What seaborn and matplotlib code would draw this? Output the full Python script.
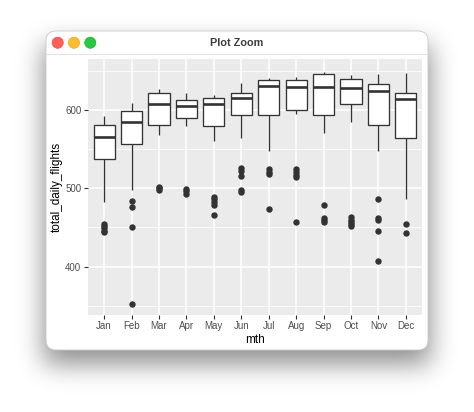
import numpy as np
import pandas as pd
import matplotlib
matplotlib.use("Agg")
import matplotlib.pyplot as plt
import seaborn as sns
from matplotlib.patches import FancyBboxPatch, Circle

# ---------------- data ----------------
months = ["Jan", "Feb", "Mar", "Apr", "May", "Jun",
          "Jul", "Aug", "Sep", "Oct", "Nov", "Dec"]
whisker_low = [482, 498, 568, 580, 560, 564, 548, 595, 571, 584, 547, 486]
q1 = [537, 557, 581, 590, 579, 593, 593, 600, 594, 607, 581, 564]
median = [566, 584, 607, 605, 608, 615, 631, 629, 629, 628, 624, 614]
q3 = [581, 599, 621, 612, 615, 622, 638, 638, 646, 639, 633, 621]
whisker_high = [592, 609, 626, 621, 619, 634, 641, 642, 648, 645, 646, 647]

outlier_month = ["Jan", "Jan", "Jan", "Jan", "Jan",
                 "Feb", "Feb", "Feb", "Feb",
                 "Mar", "Mar", "Mar",
                 "Apr", "Apr", "Apr",
                 "May", "May", "May", "May", "May",
                 "Jun", "Jun", "Jun", "Jun", "Jun",
                 "Jul", "Jul", "Jul", "Jul",
                 "Aug", "Aug", "Aug", "Aug", "Aug",
                 "Sep", "Sep", "Sep", "Sep",
                 "Oct", "Oct", "Oct", "Oct", "Oct",
                 "Nov", "Nov", "Nov", "Nov", "Nov",
                 "Dec", "Dec"]
outlier_value = [455, 452, 449, 446, 444,
                 484, 476, 451, 352,
                 502, 500, 498,
                 499, 496, 493,
                 489, 486, 483, 479, 466,
                 526, 522, 516, 498, 495,
                 524, 521, 518, 473,
                 525, 521, 517, 514, 457,
                 479, 462, 459, 457,
                 463, 460, 457, 454, 452,
                 486, 462, 459, 446, 407,
                 454, 443]

y_ticks = [400, 500, 600]
y_minor = [350, 450, 550, 650]

# ---------------- tables for seaborn ----------------
box_rows = []
for m, a, b, c, d, e in zip(months, whisker_low, q1, median, q3, whisker_high):
    for v in (a, b, c, d, e):
        box_rows.append({"mth": m, "total_daily_flights": v})
box_df = pd.DataFrame(box_rows)
out_df = pd.DataFrame({"mth": outlier_month, "total_daily_flights": outlier_value})

plt.rcParams["font.family"] = ["Liberation Sans", "DejaVu Sans"]

W, H = 474, 412
fig = plt.figure(figsize=(W / 100, H / 100), dpi=100)
fig.patch.set_facecolor("white")

# ---------------- window chrome ----------------
bg = fig.add_axes([0, 0, 1, 1])
bg.set_xlim(0, W)
bg.set_ylim(H, 0)
bg.axis("off")

wx0, wy0, wx1, wy1 = 46, 31, 428, 350


def blur(a, s):
    r = int(3 * s)
    k = np.exp(-0.5 * (np.arange(-r, r + 1) / s) ** 2)
    k /= k.sum()
    a = np.apply_along_axis(lambda row: np.convolve(row, k, mode="same"), 1, a)
    a = np.apply_along_axis(lambda col: np.convolve(col, k, mode="same"), 0, a)
    return a


mask = np.zeros((H, W))
mask[wy0 + 14:wy1 + 14, wx0 - 2:wx1 + 2] = 1.0
sh = blur(mask, 13) * 0.45
rgba = np.zeros((H, W, 4))
rgba[..., 3] = sh
bg.imshow(rgba, extent=(0, W, H, 0), origin="upper", interpolation="bilinear", zorder=0)

win = FancyBboxPatch((wx0, wy0), wx1 - wx0, wy1 - wy0,
                     boxstyle="round,pad=0,rounding_size=10",
                     fc="white", ec="#c9c9c9", lw=0.6, zorder=1)
bg.add_patch(win)
bg.plot([wx0 + 0.5, wx1 - 0.5], [54, 54], color="#e4e4e4", lw=0.8, zorder=2)
for cx, col, ec in [(57.7, "#ff5f57", "#e2463f"), (74.0, "#febc2e", "#e1a116"),
                    (90.3, "#28c840", "#14ae2c")]:
    bg.add_patch(Circle((cx, 42.7), 5.6, fc=col, ec=ec, lw=0.4, zorder=3))
bg.text(236.5, 42.5, "Plot Zoom", ha="center", va="center", fontsize=7.8,
        fontweight="bold", color="#3d3d3d", zorder=3)

# ---------------- plot ----------------
px0, px1, py0, py1 = 87.7, 422.3, 59.3, 315.0
ax = fig.add_axes([px0 / W, (H - py1) / H, (px1 - px0) / W, (py1 - py0) / H])
ax.set_facecolor("#EBEBEB")

sns.boxplot(data=box_df, x="mth", y="total_daily_flights", order=months,
            whis=(0, 100), width=0.77, color="white", linecolor="#333333",
            linewidth=0.95, fliersize=0, showcaps=False,
            medianprops={"linewidth": 1.9, "color": "#333333"}, ax=ax)
sns.stripplot(data=out_df, x="mth", y="total_daily_flights", order=months,
              jitter=False, color="#333333", size=4.6, linewidth=0, ax=ax)

ax.set_xlim(-0.6, 11.6)
ax.set_ylim(338.4, 664.5)
ax.set_yticks(y_ticks)
ax.set_yticks(y_minor, minor=True)
ax.set_axisbelow(True)
ax.grid(which="major", color="white", lw=1.1)
ax.grid(which="minor", axis="y", color="white", lw=0.55)
for s in ax.spines.values():
    s.set_visible(False)
ax.tick_params(axis="both", which="major", length=2.8, width=0.8, color="#333333",
               labelcolor="#4D4D4D", labelsize=7, pad=1.8)
ax.tick_params(axis="both", which="minor", length=0)
ax.set_xlabel("mth", fontsize=8.5, labelpad=2, color="black")
ax.set_ylabel("total_daily_flights", fontsize=8.5, labelpad=1.5, color="black")

fig.savefig("out.png", dpi=100)
